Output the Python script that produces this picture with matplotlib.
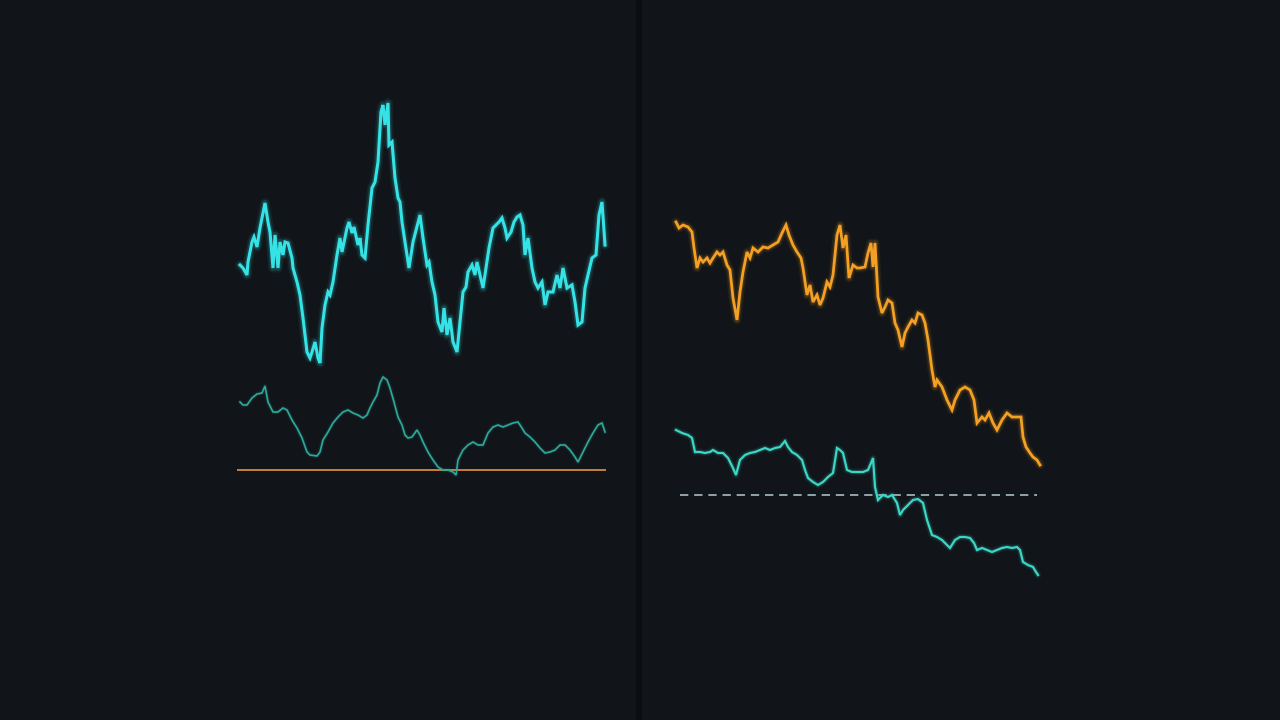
import matplotlib
matplotlib.use("Agg")
import matplotlib.pyplot as plt
from matplotlib.patches import Rectangle

# ---------------- data (time index, level) ----------------
left_main_t = [0,3,7,8,12,14,17,20,25,28,30,33,35,38,40,43,45,48,52,53,57,60,63,67,70,72,75,78,80,82,85,88,90,93,97,100,102,107,109,112,114,118,120,122,125,128,132,135,138,141,143,145,148,149,152,155,158,160,162,165,169,173,180,183,187,189,192,195,198,202,204,207,210,213,217,220,223,226,228,232,235,237,240,243,246,249,253,256,259,262,265,267,271,274,277,280,283,285,288,292,295,298,302,305,308,313,317,320,323,327,332,335,338,342,345,348,352,356,359,362,365]
left_main_v = [335,332,325,338,358,363,353,372,397,378,368,332,365,332,358,345,358,357,342,332,318,305,282,248,242,248,258,242,237,272,295,308,305,318,345,362,348,372,378,367,373,355,362,345,342,375,412,418,438,488,495,475,497,455,458,422,402,398,378,358,332,358,385,362,335,338,318,305,278,268,292,265,282,258,248,278,308,313,328,335,325,338,325,312,332,352,372,375,378,382,372,362,368,378,383,385,375,345,362,332,318,312,318,295,308,308,325,312,332,312,315,298,275,278,312,325,342,345,385,398,355]

left_sub_t = [0,3,7,12,17,22,25,28,33,38,43,47,52,57,62,67,70,77,80,83,88,93,98,103,108,113,118,123,127,130,133,137,140,143,147,150,154,158,162,165,168,172,177,180,183,188,193,198,203,208,213,216,218,223,228,233,238,243,248,253,258,263,268,273,278,282,285,290,295,300,305,310,315,320,325,330,335,338,343,348,353,358,362,365]
left_sub_v = [198,195,195,202,206,207,214,198,188,188,192,190,180,172,162,148,145,144,148,160,168,177,183,188,190,187,185,182,185,192,198,205,217,223,220,212,198,183,175,165,162,163,170,165,158,148,140,133,130,130,128,125,140,150,155,158,155,155,167,173,175,173,175,177,178,172,167,163,158,152,147,148,150,155,155,150,143,138,148,158,167,175,177,168]

left_base_t = [-2, 365]
left_base_v = [130, 130]

right_main_t = [0,3,7,12,16,18,21,24,27,31,34,37,41,44,47,51,54,57,61,64,67,71,74,77,82,87,92,97,102,106,110,113,117,121,125,127,131,134,137,141,144,147,151,154,157,161,164,167,170,173,177,181,184,189,192,195,197,199,202,206,209,212,216,219,222,226,229,232,236,239,242,246,249,252,256,259,261,266,271,276,279,284,289,294,298,301,306,309,313,317,321,326,331,336,341,345,347,350,354,357,361,364]
right_main_v = [378,372,375,373,368,352,332,342,338,342,337,342,348,345,348,335,330,302,280,308,328,348,342,352,348,353,352,355,358,367,375,365,355,348,342,332,305,315,298,305,295,302,318,313,325,365,375,352,365,322,335,332,332,333,347,357,333,357,303,287,293,300,297,277,270,253,267,273,280,277,287,285,277,260,230,213,220,213,200,190,200,210,213,210,200,177,183,180,187,177,170,180,187,183,183,183,163,153,147,143,140,135]

right_sub_t = [0,6,12,16,19,24,29,34,37,42,47,52,57,60,64,69,74,79,84,89,94,99,104,109,112,116,121,126,129,132,137,142,147,152,157,161,164,167,171,176,181,187,192,195,197,199,202,207,212,216,221,224,227,232,237,242,247,251,256,261,266,271,274,279,284,289,294,298,301,306,311,316,321,326,331,336,341,344,347,352,357,360,362]
right_sub_v = [170,167,165,162,148,148,147,148,150,147,147,142,132,125,140,145,147,148,150,152,150,152,153,159,153,148,145,140,130,122,118,115,118,123,127,152,150,147,130,128,128,128,130,137,142,113,100,105,103,105,97,85,90,95,100,101,97,80,65,63,60,55,52,60,63,63,62,57,50,52,50,48,50,52,53,52,53,50,38,35,33,28,25]

right_ref_t = [4, 361]
right_ref_v = [105, 105]

# ---------------- styling ----------------
BG = "#111418"
fig = plt.figure(figsize=(12.8, 7.2), dpi=100, facecolor=BG)

def glow_line(ax, t, v, color, lw, glow_alpha=0.18, ls="-"):
    ax.plot(t, v, color=color, lw=lw * 3.2, alpha=glow_alpha * 0.5, solid_capstyle="round", ls=ls)
    ax.plot(t, v, color=color, lw=lw * 2.0, alpha=glow_alpha, solid_capstyle="round", ls=ls)
    ax.plot(t, v, color=color, lw=lw, solid_joinstyle="miter", ls=ls)

axL = fig.add_axes([0, 0, 638 / 1280, 1])
axR = fig.add_axes([642 / 1280, 0, 638 / 1280, 1])
for ax in (axL, axR):
    ax.set_facecolor(BG)
    ax.set_ylim(-120, 600)
    ax.axis("off")
axL.set_xlim(-240, 398)
axR.set_xlim(-34, 604)

# left panel
axL.plot(left_base_t, left_base_v, color="#c8803a", lw=1.4)
glow_line(axL, left_sub_t, left_sub_v, "#2fa89c", 1.2, 0.12)
glow_line(axL, left_main_t, left_main_v, "#35e3e6", 2.2, 0.16)

# right panel
axR.plot(right_ref_t, right_ref_v, color="#a9bcc6", lw=1.2, ls=(0, (5, 3.5)))
glow_line(axR, right_sub_t, right_sub_v, "#3cd6c6", 1.6, 0.14)
glow_line(axR, right_main_t, right_main_v, "#f3a024", 2.0, 0.16)

# divider
fig.patches.append(Rectangle((636 / 1280, 0), 6 / 1280, 1, transform=fig.transFigure,
                             facecolor="#0b0d10", edgecolor="none", zorder=5))

fig.savefig("out.png", dpi=100, facecolor=BG)
